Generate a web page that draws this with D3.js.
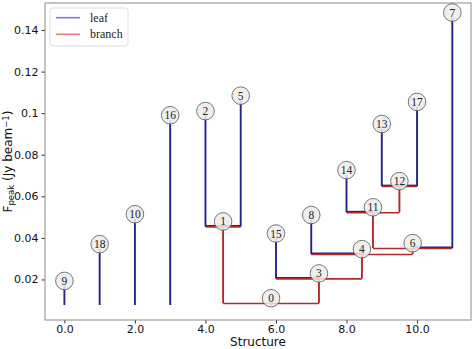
<!DOCTYPE html>
<html>
<head>
<meta charset="utf-8">
<script src="https://cdn.jsdelivr.net/npm/d3@7"></script>
<style>
  body { margin: 0; background: #fff; }
  svg { display: block; }
</style>
</head>
<body>
<div id="chartArea"></div>
<script>
// dendrogram structures, indexed by structure id
var peakValues = [0.0086, 0.0455, 0.0986, 0.0205, 0.0322, 0.106, 0.0351, 0.146, 0.0486, 0.0169,
                  0.049, 0.0523, 0.0649, 0.0924, 0.0702, 0.0397, 0.0966, 0.103, 0.0346];
var parentIds = [-1, 0, 1, 0, 3, 1, 4, 6, 4, -1, -1, 6, 11, 12, 11, 3, -1, 12, -1];
// leaves left to right on the x axis
var leafOrder = [9, 18, 10, 16, 2, 5, 15, 8, 14, 13, 17, 7];
var baseValue = 0.0077;
var xTicks = [0, 2, 4, 6, 8, 10];
var yTicks = [0.02, 0.04, 0.06, 0.08, 0.1, 0.12, 0.14];

var leafColor = "#23238c", branchColor = "#b5282c";

var W = 474, H = 349;
var margin = {top: 3, right: 3, bottom: 29, left: 45};
var width = W - margin.left - margin.right,
    height = H - margin.top - margin.bottom;

var svg = d3.select("#chartArea").append("svg").attr("width", W).attr("height", H);
var g = svg.append("g").attr("transform", "translate(" + margin.left + "," + margin.top + ")");

var x = d3.scaleLinear().domain([-0.55, 11.53]).range([0, width]);
var y = d3.scaleLinear().domain([0.0005, 0.153]).range([height, 0]);

// children lists and x positions (leaves by order, branches at mean of children)
var children = peakValues.map(function() { return []; });
parentIds.forEach(function(p, i) { if (p >= 0) children[p].push(i); });
children.forEach(function(c) {
    c.sort(function(a, b) { return posOf(a) - posOf(b); });
});
function posOf(id) {
    var li = leafOrder.indexOf(id);
    if (li >= 0) return li;
    return d3.mean(children[id], posOf);
}
var structs = peakValues.map(function(v, i) {
    var p = parentIds[i];
    return {
        id: i,
        pos: posOf(i),
        peak: v,
        low: p >= 0 ? peakValues[p] : baseValue,
        leaf: children[i].length == 0
    };
});

// axes
var xAxis = g.append("g")
    .attr("transform", "translate(0," + height + ")")
    .call(d3.axisBottom(x).tickValues(xTicks).tickFormat(d3.format(".1f")).tickSizeOuter(0).tickSize(3.5));
var yAxis = g.append("g")
    .call(d3.axisLeft(y).tickValues(yTicks).tickFormat(function(d) { return d == 0.1 ? "0.1" : d3.format(".2f")(d); }).tickSizeOuter(0).tickSize(3.5));
[xAxis, yAxis].forEach(function(a) {
    a.select(".domain").remove();
    a.selectAll(".tick line").attr("stroke", "#333");
    a.selectAll(".tick text").style("font", "11px 'DejaVu Sans'").attr("fill", "#111");
});
xAxis.selectAll(".tick text").attr("y", 5).attr("dy", "0.71em");

g.append("rect").attr("width", width).attr("height", height)
    .attr("fill", "none").attr("stroke", "#8a8a8a").attr("stroke-width", 1);

// horizontal connectors
structs.filter(function(s) { return !s.leaf; }).forEach(function(s) {
    var kids = children[s.id];
    kids.forEach(function(k) {
        if (structs[k].leaf) {
            g.append("line")
                .attr("x1", x(structs[k].pos)).attr("x2", x(s.pos))
                .attr("y1", y(s.peak) - 0.8).attr("y2", y(s.peak) - 0.8)
                .attr("stroke", leafColor).attr("stroke-width", 1.4);
        }
    });
    g.append("line")
        .attr("x1", x(structs[kids[0]].pos)).attr("x2", x(structs[kids[kids.length - 1]].pos))
        .attr("y1", y(s.peak) + 0.4).attr("y2", y(s.peak) + 0.4)
        .attr("stroke", branchColor).attr("stroke-width", 1.6);
});

// vertical lines
g.selectAll(".vline").data(structs).enter().append("line")
    .attr("class", "vline")
    .attr("x1", function(d) { return x(d.pos); })
    .attr("x2", function(d) { return x(d.pos); })
    .attr("y1", function(d) { return y(d.low); })
    .attr("y2", function(d) { return y(d.peak); })
    .attr("stroke", function(d) { return d.leaf ? leafColor : branchColor; })
    .attr("stroke-width", 1.9);

// circled ids
var lab = g.selectAll(".lab").data(structs).enter().append("g")
    .attr("class", "lab")
    .attr("transform", function(d) { return "translate(" + x(d.pos) + "," + (y(d.peak) - 5) + ")"; });
lab.append("circle").attr("r", 8.8)
    .attr("fill", "#ececec").attr("fill-opacity", 0.85)
    .attr("stroke", "#555").attr("stroke-width", 0.8);
lab.append("text")
    .attr("text-anchor", "middle").attr("dy", "0.35em")
    .style("font", "11.5px 'Liberation Serif'").attr("fill", "#222")
    .text(function(d) { return d.id; });

// legend
var leg = g.append("g").attr("transform", "translate(5,5)");
leg.append("rect").attr("width", 78).attr("height", 38).attr("rx", 3)
    .attr("fill", "#fff").attr("fill-opacity", 0.9).attr("stroke", "#ddd");
[["leaf", "#7e7ed8"], ["branch", "#f07878"]].forEach(function(e, i) {
    leg.append("line").attr("x1", 6).attr("x2", 30)
        .attr("y1", 9.7 + i * 16.6).attr("y2", 9.7 + i * 16.6)
        .attr("stroke", e[1]).attr("stroke-width", 1.6);
    leg.append("text").attr("x", 40).attr("y", 9.7 + i * 16.6).attr("dy", "0.32em")
        .style("font", "12px 'Liberation Serif'").attr("fill", "#222").text(e[0]);
});

// axis labels
svg.append("text")
    .attr("x", margin.left + width / 2).attr("y", 346)
    .attr("text-anchor", "middle")
    .style("font", "12px 'DejaVu Sans'").attr("fill", "#111")
    .text("Structure");

var yl = svg.append("text")
    .attr("transform", "translate(12," + (margin.top + height / 2) + ") rotate(-90)")
    .attr("text-anchor", "middle")
    .style("font", "12px 'DejaVu Sans'").attr("fill", "#111");
yl.append("tspan").text("F");
yl.append("tspan").attr("baseline-shift", "-25%").style("font-size", "8.5px").text("peak");
yl.append("tspan").text(" (Jy beam");
yl.append("tspan").attr("baseline-shift", "35%").style("font-size", "8.5px").text("\u22121");
yl.append("tspan").text(")");
</script>
</body>
</html>
